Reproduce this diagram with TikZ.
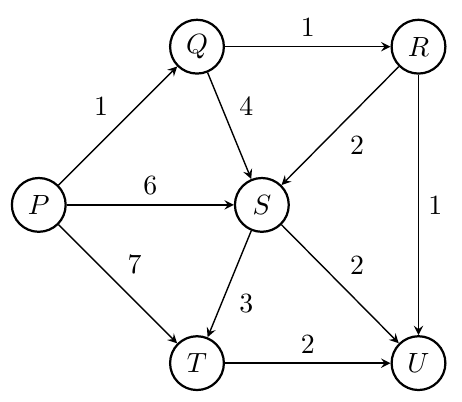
\documentclass[tikz,border=0pt]{standalone}
\usepackage{amsmath}
\usepackage{tikz}
\usetikzlibrary{arrows.meta}
\tikzset{
    % vertex and edge styles
    vertex/.style={circle,draw,thick,minimum size=0.68cm,inner sep=0pt},
    edge/.style={->,>=stealth,line width=0.5pt},
    weight/.style={inner sep=3.3pt}
}

\begin{document}
\begin{tikzpicture}
    \useasboundingbox (-0.49,-2.48) rectangle (5.35,2.59);

    % Vertices
    \node[vertex] (P) at (0,0) {$P$};
    \node[vertex] (Q) at (2,2) {$Q$};
    \node[vertex] (R) at (4.8,2) {$R$};
    \node[vertex] (S) at (2.82,0) {$S$};
    \node[vertex] (T) at (2,-2) {$T$};
    \node[vertex] (U) at (4.8,-2) {$U$};

    % Weighted edges
    \draw[edge] (P) -- (Q) node[weight,midway,above left] {1};
    \draw[edge] (P) -- (S) node[weight,midway,above] {6};
    \draw[edge] (P) -- (T) node[weight,midway,above right] {7};
    \draw[edge] (Q) -- (R) node[weight,midway,above] {1};
    \draw[edge] (Q) -- (S) node[weight,midway,above right] {4};
    \draw[edge] (R) -- (S) node[weight,midway,below right] {2};
    \draw[edge] (R) -- (U) node[weight,midway,right] {1};
    \draw[edge] (S) -- (T) node[weight,midway,below right] {3};
    \draw[edge] (S) -- (U) node[weight,midway,above right] {2};
    \draw[edge] (T) -- (U) node[weight,midway,above] {2};
\end{tikzpicture}
\end{document}
